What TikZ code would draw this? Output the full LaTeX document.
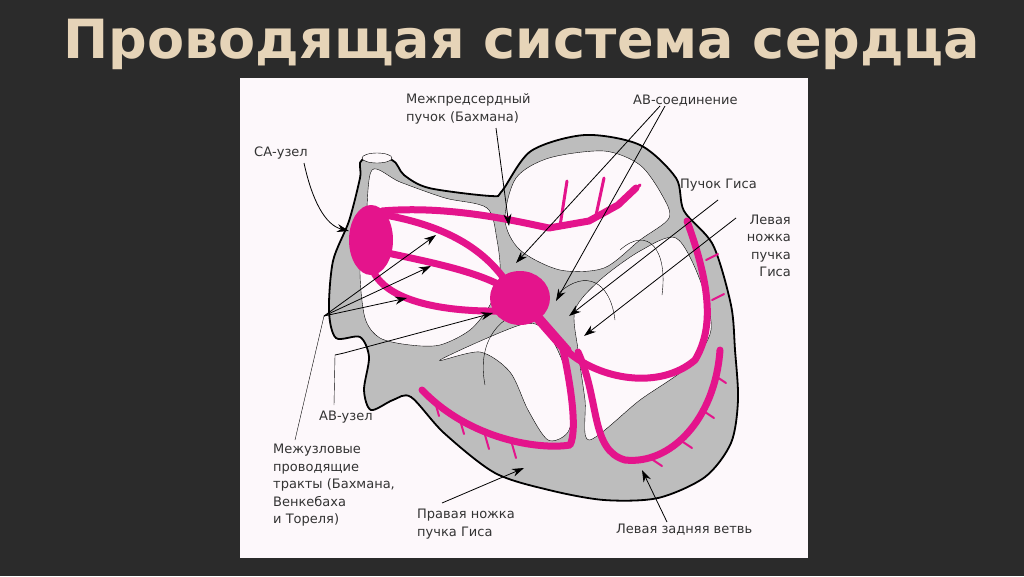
\documentclass[tikz,border=0pt]{standalone}
\usepackage{fontspec}
\setmainfont{DejaVu Sans}
\usetikzlibrary{arrows.meta}
\definecolor{bgdark}{HTML}{2B2B2B}
\definecolor{titlebeige}{HTML}{E6D4B8}
\definecolor{panel}{HTML}{FDF8FB}
\definecolor{wall}{HTML}{BDBDBD}
\definecolor{pinkline}{HTML}{E4148C}
\tikzset{
  lbl/.style={font=\fontsize{13}{17.5}\selectfont, inner sep=0pt, align=left, text=black!80},
  ptr/.style={-{Stealth[length=12pt,width=8pt]}, line width=0.8pt},
  cond/.style={pinkline, line width=#1, line cap=round, line join=round},
  cond/.default=7pt
}
\begin{document}
\begin{tikzpicture}[x=1pt,y=-1pt]
% Hintergrund
\fill[bgdark] (0,0) rectangle (1024,576);
\useasboundingbox (0,0) rectangle (1024,576);
\node[titlebeige, font=\fontsize{54}{54}\selectfont\bfseries] (title) at (522,44) {Проводящая система сердца};
\fill[panel] (240,78) rectangle (808,558);
% Herzwand
\draw[fill=wall, line width=1.8pt] plot[smooth cycle, tension=0.5] coordinates {
  (362,160) (360,178) (349,221) (333,261) (329,311) (336,338) (360,337)
  (369,357) (364,390) (371,410) (393,400) (411,397) (444,433) (495,473)
  (549,490) (604,500) (658,498) (705,477) (731,443) (738,400) (735,350)
  (731,305) (713,245) (684,211) (676,178) (640,145) (585,135) (531,151)
  (502,191) (491,196) (429,188) (404,175) (392,160)};
\draw[fill=panel] (377,158) ellipse (15 and 5);
% Kammern
\draw[fill=panel] plot[smooth cycle, tension=0.5] coordinates {
  (372,170) (400,182) (445,198) (487,208) (497,240) (500,275) (490,305)
  (470,330) (440,345) (410,345) (380,338) (365,318) (360,270) (366,220)};
\draw[fill=panel] plot[smooth cycle, tension=0.5] coordinates {
  (516,178) (549,158) (604,151) (640,165) (662,195) (669,218) (640,240)
  (604,268) (560,270) (520,250) (505,220)};
\draw[fill=panel] plot[smooth cycle, tension=0.5] coordinates {
  (440,360) (480,352) (510,372) (528,410) (548,440) (568,432) (573,400)
  (562,360) (545,330) (520,325)};
\draw[fill=panel] plot[smooth cycle, tension=0.5] coordinates {
  (589,440) (640,400) (687,367) (711,330) (700,280) (676,238) (640,251)
  (600,280) (575,310) (578,350) (585,400)};
% Klappen
\draw (620,250) .. controls (648,225) and (668,250) .. (662,295);
\draw (560,292) .. controls (585,270) and (610,280) .. (615,320);
\draw (505,320) .. controls (485,335) and (480,360) .. (485,385);
% Reizleitungssystem
\fill[pinkline] (371,240) ellipse (22 and 35);
\fill[pinkline] (520,298) ellipse (30 and 27);
\draw[cond] (382,211) .. controls (450,205) and (520,222) .. (549,228) -- (589,221) -- (618,205) -- (636,188);
\draw[cond=3pt] (560,226) -- (567,181);
\draw[cond=3pt] (595,220) -- (604,178);
\draw[cond=3pt] (620,203) -- (640,185);
\draw[cond] (385,215) .. controls (440,225) and (480,245) .. (505,280);
\draw[cond] (378,251) .. controls (430,262) and (470,270) .. (500,285);
\draw[cond] (371,265) .. controls (380,300) and (440,312) .. (500,311);
\draw[cond=10pt] (538,318) -- (567,351);
% rechter Schenkel
\draw[cond] (562,345) .. controls (570,380) and (578,430) .. (570,445) .. controls (540,450) and (470,440) .. (422,390);
\foreach \bx/\by in {435/402, 460/420, 485/435, 512/444}
  \draw[cond=2pt] (\bx,\by) -- (\bx+4,\by+14);
% linker Schenkel
\draw[cond] (567,351) .. controls (600,380) and (660,390) .. (695,360) .. controls (713,330) and (712,290) .. (687,221);
\draw[cond] (578,352) .. controls (600,400) and (590,450) .. (625,460) .. controls (670,465) and (715,420) .. (720,350);
\foreach \bx/\by in {650/458, 680/440, 702/410, 714/375}
  \draw[cond=2pt] (\bx,\by) -- (\bx+12,\by+8);
\foreach \bx/\by in {712/300, 706/260}
  \draw[cond=2pt] (\bx,\by) -- (\bx+12,\by-6);
% Beschriftungen
\node[lbl, anchor=west] (bachmann) at (406,109) {Межпредсердный\\пучок (Бахмана)};
\node[lbl, anchor=west] (avjunction) at (633,101) {АВ-соединение};
\node[lbl, anchor=west] (sanode) at (254,153) {СА-узел};
\node[lbl, anchor=west] (his) at (680,185) {Пучок Гиса};
\node[lbl, anchor=east, align=right] (leftbundle) at (791,246) {Левая\\ножка\\пучка\\Гиса};
\node[lbl, anchor=west] (avnode) at (319,417) {АВ-узел};
\node[lbl, anchor=north west] (tracts) at (273,444) {Межузловые\\проводящие\\тракты (Бахмана,\\Венкебаха\\и Тореля)};
\node[lbl, anchor=north west] (rightbundle) at (417,509) {Правая ножка\\пучка Гиса};
\node[lbl, anchor=west] (posterior) at (616,530) {Левая задняя ветвь};
% Pfeile
\coordinate (tractsorigin) at (324,316);
\coordinate (avcorner) at (335,355);
\draw[ptr] (304,163) .. controls (312,200) and (325,225) .. (349,231);
\draw[ptr] (496,128) -- (509,226);
\draw[ptr] (665,106) -- (556,301);
\draw[ptr] (660,106) -- (516,263);
\draw[ptr] (718,200) -- (569,316);
\draw[ptr] (736,218) -- (584,336);
\draw[ptr] (tractsorigin) -- (436,235);
\draw[ptr] (tractsorigin) -- (431,266);
\draw[ptr] (tractsorigin) -- (407,298);
\draw (tractsorigin) -- (295,440);
\draw[ptr] (avcorner) -- (344,353) -- (493,313);
\draw (avcorner) -- (334,405);
\draw[ptr] (442,503) -- (524,468);
\draw[ptr] (667,522) -- (642,470);
\end{tikzpicture}
\end{document}
